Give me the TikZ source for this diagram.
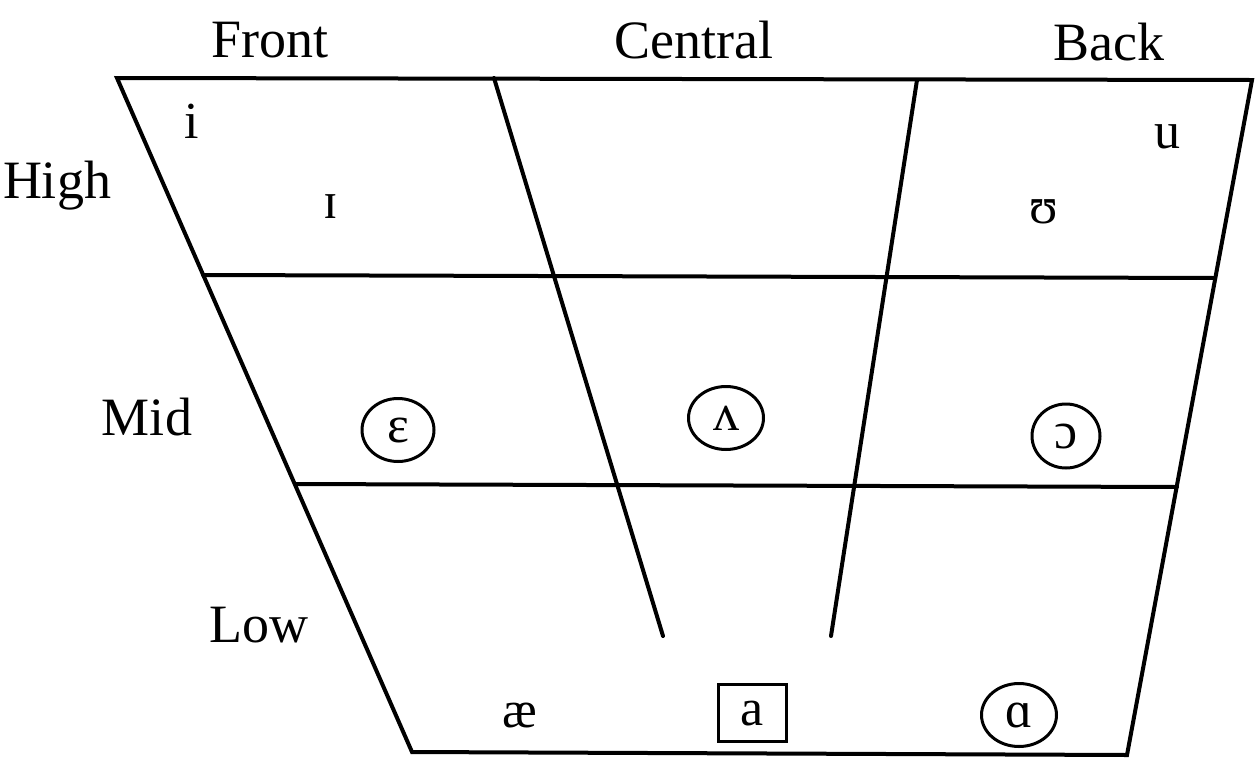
\documentclass[tikz,border=0pt]{standalone}
\usepackage{fontspec}
\setmainfont{Liberation Serif}
\usetikzlibrary{shapes.geometric}
\begin{document}
\begin{tikzpicture}[x=1pt,y=-1pt,
  edge/.style={line width=4pt, line cap=round, line join=miter},
  lab/.style={font=\fontsize{54}{60}\selectfont, anchor=base, inner sep=0pt},
  vow/.style={font=\fontsize{52}{58}\selectfont, anchor=base, inner sep=0pt},
  ringed/.style={font=\fontsize{52}{58}\selectfont, ellipse, draw, line width=3pt, inner sep=0pt, text height=24pt, text depth=0pt},
  boxed/.style={font=\fontsize{52}{58}\selectfont, rectangle, draw, line width=3pt, inner sep=0pt, text height=24pt, text depth=0pt}]
\useasboundingbox (0,0) rectangle (1259,764);
% corners
\coordinate (TL) at (117,78);
\coordinate (TR) at (1252,80);
\coordinate (BL) at (412,752);
\coordinate (BR) at (1127,755);
\coordinate (H1L) at (203,275);
\coordinate (H1R) at (1215,278);
\coordinate (H2L) at (295,484);
\coordinate (H2R) at (1177,487);
\coordinate (D1T) at (494,78);
\coordinate (D1B) at (663,636);
\coordinate (D2T) at (917,80);
\coordinate (D2B) at (831,636);
% outline
\draw[edge] (TL) -- (TR) -- (BR) -- (BL) -- cycle;
\draw[edge] (H1L) -- (H1R);
\draw[edge] (H2L) -- (H2R);
\draw[edge] (D1T) -- (D1B);
\draw[edge] (D2T) -- (D2B);
% headings
\node[lab] (front) at (270,57) {Front};
\node[lab] (central) at (694,58) {Central};
\node[lab] (back) at (1109,60) {Back};
\node[lab] (high) at (57,198) {High};
\node[lab] (mid) at (147,435) {Mid};
\node[lab] (low) at (259,642) {Low};
% plain vowels
\node[vow] (vi) at (192,138) {i};
\node[vow] (vI) at (331,218) {ɪ};
\node[vow] (vu) at (1167,148) {u};
\node[vow] (vU) at (1044,223) {ʊ};
\node[vow] (vae) at (520,727) {æ};
% marked vowels
\node[ringed, minimum width=72pt, minimum height=63pt] (veps) at (398,430) {ɛ};
\node[ringed, minimum width=75pt, minimum height=63pt] (vwedge) at (726,418) {ʌ};
\node[ringed, minimum width=68pt, minimum height=64pt] (vopen) at (1066,436) {ɔ};
\node[boxed, minimum width=68pt, minimum height=57pt] (va) at (752,713) {a};
\node[ringed, minimum width=75pt, minimum height=63pt] (valpha) at (1019,715) {ɑ};
\end{tikzpicture}
\end{document}
